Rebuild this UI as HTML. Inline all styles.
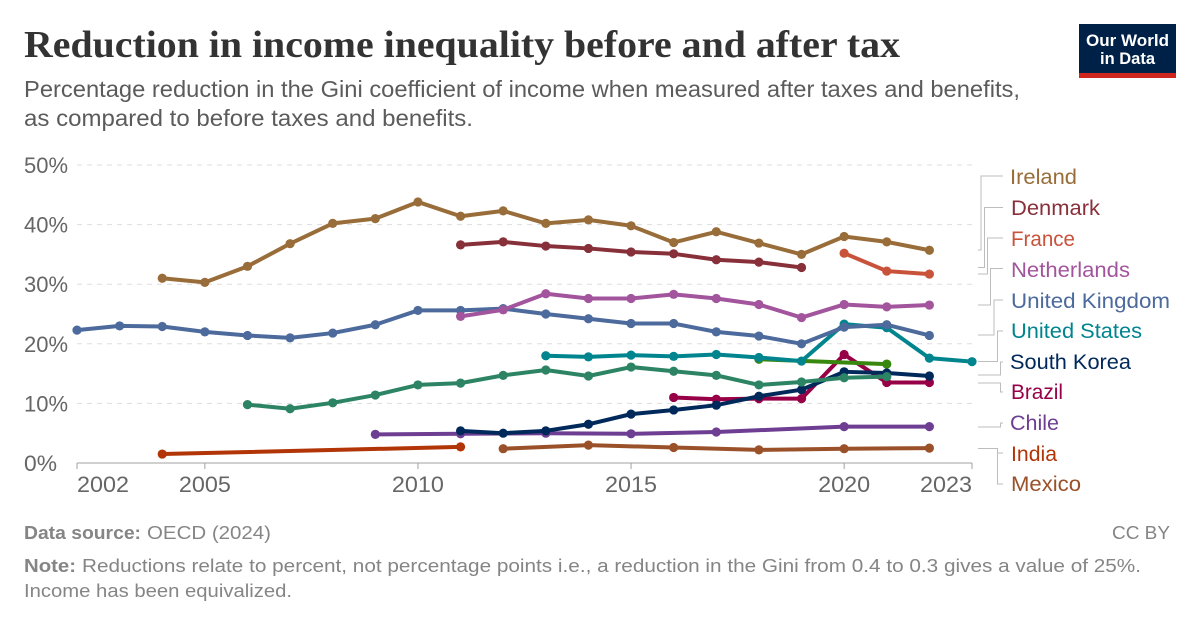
<!DOCTYPE html>
<html lang="en">
<head>
<meta charset="utf-8">
<title>Reduction in income inequality before and after tax</title>
<style>
html,body{margin:0;padding:0;background:#fff;}
svg{display:block;font-family:"Liberation Sans",sans-serif;}
</style>
</head>
<body>
<svg id="chart" xmlns="http://www.w3.org/2000/svg" width="1200" height="627" viewBox="0 0 1200 627">
  <rect width="1200" height="627" fill="#fff"/>
  <text x="24" y="57" font-family="'Liberation Serif',serif" font-weight="700" font-size="38" fill="#333333" textLength="876" lengthAdjust="spacingAndGlyphs">Reduction in income inequality before and after tax</text>
  <text x="24" y="97" font-size="23" fill="#5b5b5b" textLength="996" lengthAdjust="spacingAndGlyphs">Percentage reduction in the Gini coefficient of income when measured after taxes and benefits,</text>
  <text x="24" y="126" font-size="23" fill="#5b5b5b" textLength="449" lengthAdjust="spacingAndGlyphs">as compared to before taxes and benefits.</text>

  <g>
    <rect x="1079" y="24" width="97" height="54" fill="#002147"/>
    <rect x="1079" y="73" width="97" height="5" fill="#ce261e"/>
    <text x="1127.5" y="46" text-anchor="middle" font-size="17" font-weight="700" fill="#fff" textLength="83" lengthAdjust="spacingAndGlyphs">Our World</text>
    <text x="1127.5" y="64" text-anchor="middle" font-size="17" font-weight="700" fill="#fff" textLength="55" lengthAdjust="spacingAndGlyphs">in Data</text>
  </g>

  <g id="grid"></g>
  <g id="axes"></g>

  <g fill="none" stroke="#bdbdbd" stroke-width="1">
    <path d="M978 250H981V176H1003"/>
    <path d="M978 267.500H984.500V207.500H1003"/>
    <path d="M978 274H987.500V238H1003"/>
    <path d="M978 305H990.500V268.500H1003"/>
    <path d="M978 335H994V300H1003"/>
    <path d="M978 361.500H997.500V331H1003"/>
    <path d="M978 375H1000.500V362H1003"/>
    <path d="M978 383H1000.500V392H1003"/>
    <path d="M978 427H1000.500V423H1003"/>
    <path d="M978 448.500H997.500V453H1003"/>
    <path d="M978 448.500H997.500V484H1003"/>
  </g>

  <g id="series"></g>

  <g font-size="21.500">
    <text x="1010" y="184" fill="#996d39" textLength="67" lengthAdjust="spacingAndGlyphs">Ireland</text>
    <text x="1011" y="215" fill="#883039" textLength="89" lengthAdjust="spacingAndGlyphs">Denmark</text>
    <text x="1011" y="246" fill="#c9523b" textLength="64" lengthAdjust="spacingAndGlyphs">France</text>
    <text x="1011" y="277" fill="#a2559c" textLength="119" lengthAdjust="spacingAndGlyphs">Netherlands</text>
    <text x="1011" y="308" fill="#4c6a9c" textLength="159" lengthAdjust="spacingAndGlyphs">United Kingdom</text>
    <text x="1011" y="338" fill="#00858f" textLength="131" lengthAdjust="spacingAndGlyphs">United States</text>
    <text x="1010" y="369" fill="#00295b" textLength="121" lengthAdjust="spacingAndGlyphs">South Korea</text>
    <text x="1011" y="399" fill="#970046" textLength="52" lengthAdjust="spacingAndGlyphs">Brazil</text>
    <text x="1010" y="430" fill="#6d3e91" textLength="49" lengthAdjust="spacingAndGlyphs">Chile</text>
    <text x="1011" y="461" fill="#b13507" textLength="46" lengthAdjust="spacingAndGlyphs">India</text>
    <text x="1011" y="491" fill="#9a5129" textLength="70" lengthAdjust="spacingAndGlyphs">Mexico</text>
  </g>

  <g font-size="18.500" fill="#858585">
    <text x="24" y="539" font-weight="700" textLength="117" lengthAdjust="spacingAndGlyphs">Data source:</text>
    <text x="147" y="539" textLength="124" lengthAdjust="spacingAndGlyphs">OECD (2024)</text>
    <text x="1112" y="539" textLength="58" lengthAdjust="spacingAndGlyphs">CC BY</text>
    <text x="24" y="572" font-weight="700" textLength="52" lengthAdjust="spacingAndGlyphs">Note:</text>
    <text x="82" y="572" textLength="1059" lengthAdjust="spacingAndGlyphs">Reductions relate to percent, not percentage points i.e., a reduction in the Gini from 0.4 to 0.3 gives a value of 25%.</text>
    <text x="24" y="597" textLength="268" lengthAdjust="spacingAndGlyphs">Income has been equivalized.</text>
  </g>
</svg>

<script>
var yTicks = [0, 10, 20, 30, 40, 50];
var xTicks = [2002, 2005, 2010, 2015, 2020, 2023];

var mexicoYears = [2012, 2014, 2016, 2018, 2020, 2022];
var mexicoValues = [2.4, 3.0, 2.6, 2.2, 2.4, 2.5];
var indiaYears = [2004, 2011];
var indiaValues = [1.5, 2.7];
var chileYears = [2009, 2011, 2013, 2015, 2017, 2020, 2022];
var chileValues = [4.8, 4.9, 5.0, 4.9, 5.2, 6.1, 6.1];
var brazilYears = [2016, 2017, 2018, 2019, 2020, 2021, 2022];
var brazilValues = [11.0, 10.7, 10.8, 10.8, 18.2, 13.5, 13.5];
var limeGreenYears = [2018, 2021];
var limeGreenValues = [17.4, 16.6];
var koreaYears = [2011, 2012, 2013, 2014, 2015, 2016, 2017, 2018, 2019, 2020, 2021, 2022];
var koreaValues = [5.4, 5.0, 5.4, 6.5, 8.2, 8.9, 9.7, 11.2, 12.3, 15.3, 15.1, 14.6];
var seaGreenYears = [2006, 2007, 2008, 2009, 2010, 2011, 2012, 2013, 2014, 2015, 2016, 2017, 2018, 2019, 2020, 2021];
var seaGreenValues = [9.8, 9.1, 10.1, 11.4, 13.1, 13.4, 14.7, 15.6, 14.6, 16.1, 15.4, 14.7, 13.1, 13.6, 14.3, 14.5];
var usYears = [2013, 2014, 2015, 2016, 2017, 2018, 2019, 2020, 2021, 2022, 2023];
var usValues = [18.0, 17.8, 18.1, 17.9, 18.2, 17.7, 17.1, 23.3, 22.7, 17.6, 17.0];
var ukYears = [2002, 2003, 2004, 2005, 2006, 2007, 2008, 2009, 2010, 2011, 2012, 2013, 2014, 2015, 2016, 2017, 2018, 2019, 2020, 2021, 2022];
var ukValues = [22.3, 23.0, 22.9, 22.0, 21.4, 21.0, 21.8, 23.2, 25.6, 25.6, 25.9, 25.0, 24.2, 23.4, 23.4, 22.0, 21.3, 20.0, 22.8, 23.2, 21.4];
var netherlandsYears = [2011, 2012, 2013, 2014, 2015, 2016, 2017, 2018, 2019, 2020, 2021, 2022];
var netherlandsValues = [24.6, 25.7, 28.4, 27.6, 27.6, 28.3, 27.6, 26.6, 24.4, 26.6, 26.2, 26.5];
var franceYears = [2020, 2021, 2022];
var franceValues = [35.2, 32.2, 31.7];
var denmarkYears = [2011, 2012, 2013, 2014, 2015, 2016, 2017, 2018, 2019];
var denmarkValues = [36.6, 37.1, 36.4, 36.0, 35.4, 35.1, 34.1, 33.7, 32.8];
var irelandYears = [2004, 2005, 2006, 2007, 2008, 2009, 2010, 2011, 2012, 2013, 2014, 2015, 2016, 2017, 2018, 2019, 2020, 2021, 2022];
var irelandValues = [31.0, 30.3, 33.0, 36.8, 40.2, 41.0, 43.8, 41.4, 42.3, 40.2, 40.8, 39.8, 37.0, 38.8, 36.9, 35.0, 38.0, 37.1, 35.7];

var seriesList = [
  ['mexico', '#9a5129', mexicoYears, mexicoValues],
  ['india', '#b13507', indiaYears, indiaValues],
  ['chile', '#6d3e91', chileYears, chileValues],
  ['brazil', '#970046', brazilYears, brazilValues],
  ['lime-green-unlabelled', '#38870f', limeGreenYears, limeGreenValues],
  ['south-korea', '#00295b', koreaYears, koreaValues],
  ['sea-green-unlabelled', '#2c8465', seaGreenYears, seaGreenValues],
  ['united-states', '#00858f', usYears, usValues],
  ['united-kingdom', '#4c6a9c', ukYears, ukValues],
  ['netherlands', '#a2559c', netherlandsYears, netherlandsValues],
  ['france', '#c9523b', franceYears, franceValues],
  ['denmark', '#883039', denmarkYears, denmarkValues],
  ['ireland', '#996d39', irelandYears, irelandValues]
];

var NS = 'http://www.w3.org/2000/svg';
function xScale(year) { return 77 + (year - 2002) * (972 - 77) / (2023 - 2002); }
function yScale(value) { return 463 - value * (463 - 165) / 50; }
function make(tag, parent, attrs) {
  var el = document.createElementNS(NS, tag);
  for (var k in attrs) el.setAttribute(k, attrs[k]);
  parent.appendChild(el);
  return el;
}

var gridGroup = document.getElementById('grid');
var axesGroup = document.getElementById('axes');
var seriesGroup = document.getElementById('series');

yTicks.forEach(function (tick) {
  if (tick > 0) {
    var line = make('line', gridGroup, { x1: 77, x2: 972, y1: yScale(tick), y2: yScale(tick), stroke: '#dddddd', 'stroke-width': 1, 'stroke-dasharray': '5,5' });
    
    
  }
  var label = make('text', axesGroup, { x: 24, y: yScale(tick) + 8, 'font-size': 22, fill: '#666666', textLength: tick === 0 ? 33 : 44, lengthAdjust: 'spacingAndGlyphs' });
  
  
  label.textContent = tick + '%';
});

var axisLine = make('line', axesGroup, { x1: 77, x2: 972, y1: 463, y2: 463, stroke: '#a1a1a1', 'stroke-width': 1 });



xTicks.forEach(function (year, i) {
  var tick = make('line', axesGroup, { x1: xScale(year), x2: xScale(year), y1: 463, y2: 469, stroke: '#a1a1a1', 'stroke-width': 1 });
  
  
  var anchor = i === 0 ? 'start' : (i === xTicks.length - 1 ? 'end' : 'middle');
  var label = make('text', axesGroup, { x: xScale(year), y: 492, 'text-anchor': anchor, 'font-size': 22, fill: '#666666', textLength: 52, lengthAdjust: 'spacingAndGlyphs' });
  
  
  label.textContent = year;
});

seriesList.forEach(function (s) {
  var g = make('g', seriesGroup, {});
  
  
  var pts = s[2].map(function (year, i) { return xScale(year) + ',' + yScale(s[3][i]); }).join(' ');
  var poly = make('polyline', g, { points: pts, fill: 'none', stroke: s[1], 'stroke-width': 4, 'stroke-linejoin': 'round', 'stroke-linecap': 'round' });
  
  
  s[2].forEach(function (year, i) {
    var dot = make('circle', g, { cx: xScale(year), cy: yScale(s[3][i]), r: 4.6, fill: s[1] });
    
    
  });
});
</script>
</body>
</html>
